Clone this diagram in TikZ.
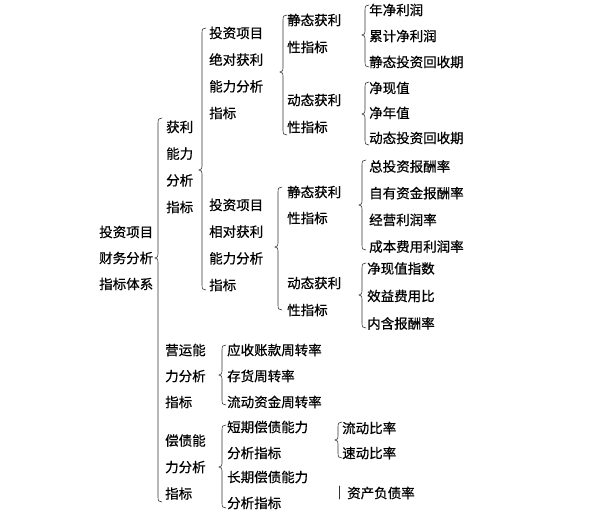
\documentclass[tikz,border=0pt]{standalone}
\usepackage{fontspec}
\newfontfamily\cjk[FakeBold=0.6]{Noto Sans CJK SC}
\newcommand\mybr[4]{% x, top, tip, bottom
  \draw[brc] (#1+4,#2) .. controls (#1+1,#2) and (#1,#2+1) .. (#1,#2+5)
    -- (#1,#3-4) .. controls (#1,#3-1) .. (#1-3,#3)
    .. controls (#1,#3+1) .. (#1,#3+4)
    -- (#1,#4-5) .. controls (#1,#4-1) and (#1+1,#4) .. (#1+4,#4);}
\tikzset{
  grp/.style={font=\cjk\fontsize{13.5}{#1}\selectfont, align=left, anchor=west, inner sep=0pt, text=black},
  grp/.default=26.5,
  brc/.style={line width=0.6pt, black!80, line cap=round}
}
\begin{document}
\begin{tikzpicture}[x=1pt,y=-1pt]
\useasboundingbox (0,0) rectangle (590,526);
% root
\node[grp=26] (root) at (99,258) {投资项目\\财务分析\\指标体系};
\mybr{158}{118}{258}{502}
% level 1
\node[grp=26.7] (hl) at (166,167) {获利\\能力\\分析\\指标};
\node[grp=26] (yy) at (165,376) {营运能\\力分析\\指标};
\node[grp=26.5] (cz) at (165,467) {偿债能\\力分析\\指标};
% profitability
\mybr{202}{28}{170}{290}
\node[grp=26.7] (abs) at (209,73) {投资项目\\绝对获利\\能力分析\\指标};
\node[grp=26.7] (rel) at (209,245) {投资项目\\相对获利\\能力分析\\指标};
% absolute
\mybr{283}{15}{72}{135}
\node[grp=27] (as) at (287,33.5) {静态获利\\性指标};
\node[grp=27] (ad) at (287,113.5) {动态获利\\性指标};
\mybr{365}{5}{35}{67}
\node[grp=26] (asl) at (369,36) {年净利润\\累计净利润\\静态投资回收期};
\mybr{365}{82}{114}{145}
\node[grp=25] (adl) at (369,113) {净现值\\净年值\\动态投资回收期};
% relative
\mybr{278}{187}{247}{310}
\node[grp=26] (rs) at (287,205) {静态获利\\性指标};
\node[grp=27] (rd) at (287,296.5) {动态获利\\性指标};
\mybr{362}{160}{205}{250}
\node[grp=26.7] (rsl) at (369,206.5) {总投资报酬率\\自有资金报酬率\\经营利润率\\成本费用利润率};
\mybr{362}{263}{295}{328}
\node[grp=27.5] (rdl) at (367,296) {净现值指数\\效益费用比\\内含报酬率};
% operating
\mybr{222}{345}{375}{405}
\node[grp=26] (yyl) at (227,376) {应收账款周转率\\存货周转率\\流动资金周转率};
% solvency
\mybr{222}{425}{467}{508}
\node[grp=26] (dq) at (227,440) {短期偿债能力\\分析指标};
\node[grp=26] (cq) at (227,490) {长期偿债能力\\分析指标};
\mybr{338}{422}{440}{458}
\node[grp=25] (dql) at (342,440.5) {流动比率\\速动比率};
\coordinate (bt) at (339,486);
\coordinate (bb) at (339,499);
\draw[brc] (bt) -- (bb);
\node[grp] (cql) at (347,493) {资产负债率};
\end{tikzpicture}
\end{document}
